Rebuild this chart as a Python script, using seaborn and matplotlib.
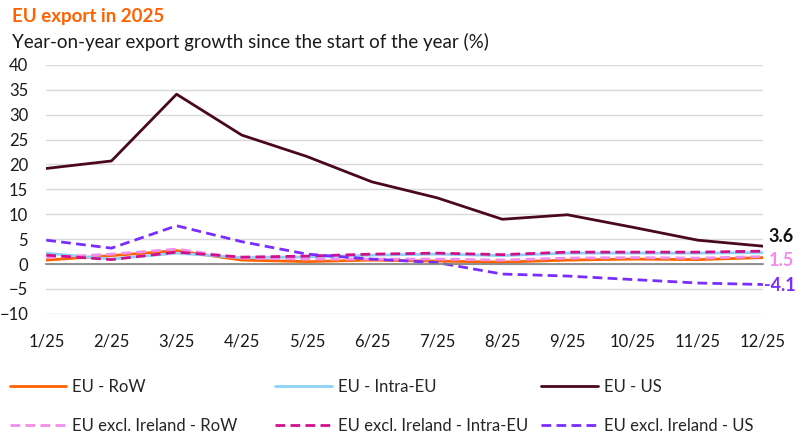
import matplotlib
matplotlib.use("Agg")
import matplotlib.pyplot as plt
import seaborn as sns
import pandas as pd

# Data
months = ['1/25', '2/25', '3/25', '4/25', '5/25', '6/25',
          '7/25', '8/25', '9/25', '10/25', '11/25', '12/25']
eu_row = [0.8, 1.7, 2.7, 0.8, 0.5, 0.8, 0.6, 0.4, 0.8, 1.0, 0.9, 1.3]
eu_intra = [2.2, 1.0, 2.2, 1.3, 1.4, 1.8, 2.0, 1.7, 2.2, 2.2, 2.2, 2.3]
eu_us = [19.2, 20.7, 34.1, 25.9, 21.6, 16.5, 13.3, 9.0, 9.9, 7.4, 4.8, 3.6]
exirl_row = [1.3, 2.0, 3.0, 1.2, 1.0, 1.0, 1.0, 0.8, 1.2, 1.3, 1.2, 1.5]
exirl_intra = [1.8, 0.9, 2.4, 1.4, 1.6, 2.0, 2.2, 1.9, 2.4, 2.4, 2.4, 2.6]
exirl_us = [4.8, 3.2, 7.7, 4.5, 2.0, 1.0, 0.3, -2.0, -2.4, -3.1, -3.8, -4.1]

series = {
    'EU - RoW': eu_row,
    'EU - Intra-EU': eu_intra,
    'EU - US': eu_us,
    'EU excl. Ireland - RoW': exirl_row,
    'EU excl. Ireland - Intra-EU': exirl_intra,
    'EU excl. Ireland - US': exirl_us,
}
colors = {
    'EU - RoW': '#FF6200',
    'EU - Intra-EU': '#8CD2F4',
    'EU - US': '#4A0820',
    'EU excl. Ireland - RoW': '#F48CEB',
    'EU excl. Ireland - Intra-EU': '#D1108A',
    'EU excl. Ireland - US': '#7B2CFF',
}
dash = (3.5, 1.9)
dashes = {
    'EU - RoW': '',
    'EU - Intra-EU': '',
    'EU - US': '',
    'EU excl. Ireland - RoW': dash,
    'EU excl. Ireland - Intra-EU': dash,
    'EU excl. Ireland - US': dash,
}

rows = []
for name, vals in series.items():
    for i, v in enumerate(vals):
        rows.append({'pos': i, 'Series': name, 'Value': v})
df = pd.DataFrame(rows)

sns.set_style("white")
plt.rcParams['font.family'] = ['Lato', 'DejaVu Sans']

fig = plt.figure(figsize=(7.98, 4.44), dpi=100)
ax = fig.add_axes([0.058, 0.293, 0.898, 0.561])

sns.lineplot(data=df, x='pos', y='Value', hue='Series', style='Series',
             hue_order=list(series), style_order=list(series),
             palette=colors, dashes=dashes, linewidth=2.0, sort=False,
             ax=ax)

ax.set_xlim(0, 11)
ax.set_ylim(-10, 40)
ax.set_yticks(range(-10, 41, 5))
ax.set_xticks(range(len(months)))
ax.set_xticklabels(months)
ax.set_xlabel('')
ax.set_ylabel('')

ax.grid(axis='y', color='#d9d9d9', linewidth=1)
ax.set_axisbelow(True)
for s in ['left', 'right', 'top']:
    ax.spines[s].set_visible(False)
ax.spines['bottom'].set_position(('data', 0))
ax.spines['bottom'].set_color('#808080')
ax.spines['bottom'].set_linewidth(1.2)
ax.tick_params(axis='x', direction='out', length=6, width=1.2, color='#808080',
               pad=44, labelsize=12, labelcolor='#1a1a1a')
ax.tick_params(axis='y', length=0, pad=13, labelsize=12, labelcolor='#1a1a1a')

# End labels
last = len(months) - 1
ax.annotate(f"{eu_us[-1]:.1f}", xy=(last, eu_us[-1]), xytext=(4, 7),
            textcoords='offset points', color='#111111', fontsize=13,
            fontweight='bold', va='center', ha='left', annotation_clip=False)
ax.annotate(f"{exirl_row[-1]:.1f}", xy=(last, exirl_row[-1]), xytext=(4, -3),
            textcoords='offset points', color='#F48CEB', fontsize=13,
            fontweight='bold', va='center', ha='left', annotation_clip=False)
ax.annotate(f"{exirl_us[-1]:.1f}", xy=(last, exirl_us[-1]), xytext=(1, -1),
            textcoords='offset points', color='#7B2CFF', fontsize=13,
            fontweight='bold', va='center', ha='left', annotation_clip=False)

# Titles
fig.text(0.015, 0.963, 'EU export in 2025', color='#FF6200', fontsize=13.5,
         fontweight='bold', va='center', ha='left')
fig.text(0.015, 0.906, 'Year-on-year export growth since the start of the year (%)',
         color='#1a1a1a', fontsize=13.5, va='center', ha='left')

# Legend: one small legend per column, two rows each
handles, labels = ax.get_legend_handles_labels()
ax.get_legend().remove()
lut = dict(zip(labels, handles))
names = list(series)
col_x = [0.012, 0.345, 0.678]
for k in range(3):
    pair = [names[k], names[k + 3]]
    fig.legend([lut[n] for n in pair], pair, loc='upper left',
               bbox_to_anchor=(col_x[k], 0.147), frameon=False, fontsize=12,
               handlelength=3.4, handletextpad=0.35, labelspacing=1.4,
               borderaxespad=0, borderpad=0)

fig.savefig('out.png', dpi=100)
